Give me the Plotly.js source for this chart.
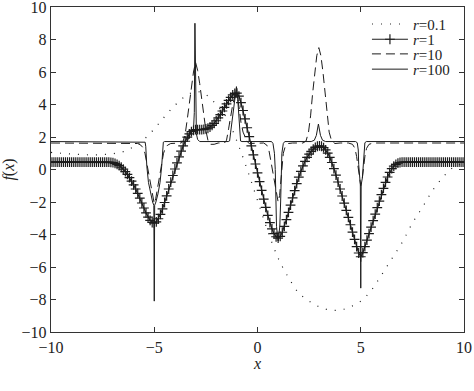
<!DOCTYPE html>
<html>
<head>
<meta charset="utf-8">
<script src="https://cdn.plot.ly/plotly-3.0.1.min.js"></script>
<style>html,body{margin:0;padding:0;background:#fff;}#chart{width:474px;height:391px;}</style>
</head>
<body>
<div id="chart"></div>
<script>
// ---- data ----
const seriesNames = ['<i>r</i>=0.1', '<i>r</i>=1', '<i>r</i>=10', '<i>r</i>=100'];

// r = 0.1 (dotted)
const r01X = [-10,-9.5,-9,-8.5,-8,-7.5,-7,-6.5,-6,-5.5,-5,-4.5,-4,-3.5,-3,-2.5,-2,-1.5,-1,-0.5,0,0.5,1,1.5,2,2.5,3,3.5,4,4.5,5,5.5,6,6.5,7,7.5,8,8.5,9,9.5,10];
const r01Y = [1.05,1.0,0.95,0.92,0.9,0.92,0.97,1.1,1.4,1.85,2.5,3.25,3.95,4.5,4.8,4.6,4.0,3.2,1.75,0.0,-1.9,-3.8,-5.45,-6.65,-7.6,-8.1,-8.45,-8.65,-8.65,-8.45,-8.1,-7.45,-6.5,-5.5,-4.5,-3.3,-2.3,-1.25,-0.45,0.15,0.38];

// r = 1 (solid with + markers), sampled every 0.1 from -10 to 10
const r1Y = [
  0.45,0.45,0.45,0.45,0.45,0.45,0.45,0.45,0.45,0.45,
  0.45,0.45,0.45,0.45,0.45,0.45,0.45,0.45,0.45,0.45,
  0.45,0.45,0.45,0.45,0.45,0.45,0.45,0.45,0.45,
  0.44,0.42,
  0.38,0.32,0.24,0.14,0.02,-0.13,-0.3,-0.5,-0.72,-0.95,
  -1.2,-1.47,-1.76,-2.06,-2.37,-2.67,-2.93,-3.13,-3.26,-3.3,
  -3.22,-3.03,-2.76,-2.42,-2.03,-1.62,-1.2,-0.78,-0.37,0.03,
  0.41,0.78,1.13,1.45,1.74,1.99,2.19,2.33,2.41,2.45,
  2.46,2.46,2.46,2.47,2.5,2.54,2.61,2.71,2.84,3.0,
  3.18,3.38,3.6,3.82,4.04,4.25,4.44,4.59,4.68,4.7,
  4.52,4.12,3.63,3.11,2.57,2.02,1.46,0.9,0.34,-0.21,
  -0.75,-1.29,-1.82,-2.33,-2.82,-3.27,-3.65,-3.95,-4.14,-4.22,
  -4.12,-3.86,-3.5,-3.08,-2.64,-2.19,-1.74,-1.3,-0.87,-0.47,
  -0.11,0.22,0.5,0.75,0.95,1.12,1.26,1.36,1.43,1.45,
  1.43,1.35,1.21,1.01,0.75,0.43,0.06,-0.35,-0.77,-1.2,
  -1.63,-2.07,-2.51,-2.95,-3.4,-3.85,-4.3,-4.74,-5.14,-5.37,
  -5.12,-4.75,-4.35,-3.95,-3.55,-3.15,-2.75,-2.35,-1.95,-1.55,
  -1.16,-0.79,-0.46,-0.18,0.05,0.21,0.32,0.39,0.43,
  0.45,0.45,0.45,0.45,0.45,0.45,0.45,0.45,0.45,0.45,
  0.45,0.45,0.45,0.45,0.45,0.45,0.45,0.45,0.45,0.45,
  0.45,0.45,0.45,0.45,0.45,0.45,0.45,0.45,0.45,0.45,0.45
];
const r1X = r1Y.map((_, i) => Math.round((-10 + i * 0.1) * 10) / 10);

// r = 10 (dashed)
const r10X = [-10,-6,-5.8,-5.65,-5.55,-5.45,-5.35,-5.25,-5.15,-5.07,-5.0,-4.93,-4.85,-4.75,-4.65,-4.55,-4.45,-4.35,-4.2,-4.0,
  -3.7,-3.6,-3.5,-3.4,-3.3,-3.2,-3.1,-3.0,-2.9,-2.8,-2.7,-2.6,-2.5,-2.4,-2.3,-2.1,-1.9,
  -1.6,-1.5,-1.4,-1.3,-1.2,-1.1,-1.0,-0.9,-0.8,-0.7,-0.6,-0.5,-0.4,-0.2,0.0,
  0.3,0.45,0.55,0.65,0.75,0.85,0.93,1.0,1.07,1.13,1.18,1.25,1.35,1.5,1.7,
  2.2,2.35,2.47,2.57,2.67,2.77,2.87,2.97,3.07,3.17,3.27,3.37,3.47,3.59,3.75,4.0,
  4.4,4.6,4.72,4.8,4.87,4.93,5.0,5.07,5.13,5.2,5.28,5.4,5.6,10];
const r10Y = [1.63,1.63,1.6,1.5,1.35,1.0,0.3,-0.5,-1.2,-1.8,-2.1,-1.8,-1.2,-0.5,0.3,1.0,1.35,1.5,1.6,1.63,
  1.63,1.75,2.2,3.1,4.2,5.1,6.0,6.6,6.1,5.3,4.3,3.3,2.4,1.8,1.55,1.55,1.63,
  1.63,1.8,2.5,3.3,4.0,4.45,4.6,3.9,2.9,2.3,1.95,1.72,1.6,1.6,1.63,
  1.63,1.5,1.2,0.5,-0.2,-0.9,-1.6,-2.0,-1.6,-0.9,0.0,1.0,1.45,1.6,1.63,
  1.63,1.75,2.3,3.3,4.7,6.0,7.0,7.5,7.0,6.0,4.7,3.3,2.3,1.75,1.6,1.63,
  1.63,1.55,1.3,0.8,0.1,-0.6,-1.0,-0.6,0.1,0.8,1.3,1.55,1.63,1.63];

// r = 100 (thin solid)
const r100X = [-10,-5.5,-5.44,-5.41,-5.36,-5.28,-5.18,-5.08,-5.02,-5.0,-4.98,-4.92,-4.82,-4.72,-4.64,-4.59,-4.56,-4.5,
  -3.45,-3.38,-3.3,-3.2,-3.1,-3.06,-3.03,-3.0,-2.96,-2.9,-2.85,-2.8,
  -1.42,-1.35,-1.3,-1.2,-1.1,-1.02,-0.95,-0.9,-0.86,-0.82,-0.75,
  0.68,0.75,0.82,0.86,0.88,0.92,0.98,1.0,1.02,1.08,1.12,1.14,1.18,1.25,1.32,
  2.6,2.75,2.85,2.95,3.05,3.15,3.3,
  4.75,4.83,4.88,4.9,4.93,4.98,5.0,5.02,5.08,5.12,5.15,5.2,5.27,10];
const r100Y = [1.72,1.72,1.68,1.4,0.2,-0.8,-1.5,-2.0,-2.2,-8.1,-2.2,-2.0,-1.5,-0.8,0.2,1.4,1.68,1.72,
  1.72,1.8,2.1,2.35,2.45,3.5,9.0,3.5,2.2,1.85,1.74,1.72,
  1.72,1.76,2.3,3.3,4.2,5.1,4.2,3.0,2.0,1.75,1.72,
  1.72,1.6,1.0,0.0,-2.0,-3.5,-4.2,-4.4,-4.2,-3.5,-2.0,0.0,1.0,1.6,1.72,
  1.72,1.8,2.1,2.8,2.1,1.8,1.72,
  1.72,1.65,1.2,0.3,-0.5,-0.95,-7.3,-0.95,-0.5,0.3,1.2,1.65,1.72,1.72];

const xTicks = [-10, -5, 0, 5, 10];
const yTicks = [-10, -8, -6, -4, -2, 0, 2, 4, 6, 8, 10];

// ---- drawing ----
const ink = '#1c1c1c';
const serif = 'Times New Roman, Liberation Serif, serif';
const traces = [
  {x: r01X, y: r01Y, name: seriesNames[0], legend: 'legend', mode: 'lines', line: {shape: 'spline', smoothing: 1, color: ink, width: 1.2, dash: '1px,8px'}},
  {x: r1X, y: r1Y, name: seriesNames[1], legend: 'legend2', mode: 'lines+markers', line: {color: ink, width: 1.2},
   marker: {symbol: 'cross-thin-open', size: 7, color: ink, line: {color: ink, width: 1.2}}},
  {x: r10X, y: r10Y, name: seriesNames[2], legend: 'legend3', mode: 'lines', line: {color: ink, width: 1, dash: '9px,5px'}},
  {x: r100X, y: r100Y, name: seriesNames[3], legend: 'legend4', mode: 'lines', line: {color: ink, width: 1}}
];

// one legend box per row so that the rows can sit as tightly as in the reference
const legendRowY = [0.947, 0.9, 0.855, 0.808];
function legendBox(y) {
  return {x: 0.765, y: y, xanchor: 'left', yanchor: 'middle', bgcolor: 'rgba(0,0,0,0)',
          font: {family: serif, size: 15, color: '#222'}, itemwidth: 36};
}

const tickFont = {family: serif, size: 16, color: '#222'};
const layout = {
  width: 474, height: 391,
  margin: {l: 51, r: 10, t: 7, b: 59},
  paper_bgcolor: '#fff', plot_bgcolor: '#fff',
  showlegend: true,
  legend: legendBox(legendRowY[0]),
  legend2: legendBox(legendRowY[1]),
  legend3: legendBox(legendRowY[2]),
  legend4: legendBox(legendRowY[3]),
  xaxis: {range: [-10, 10], tickvals: xTicks, ticktext: xTicks.map(v => v < 0 ? '\u2212' + Math.abs(v) : String(v)),
          ticks: 'inside', ticklen: 5, tickcolor: '#333', showline: true, linecolor: '#333', linewidth: 1.3, mirror: 'ticks',
          showgrid: false, zeroline: false, tickfont: tickFont, ticklabeloverflow: 'allow',
          title: {text: '<i>x</i>', font: {family: serif, size: 16, color: '#222'}, standoff: 2}},
  yaxis: {range: [-10, 10], tickvals: yTicks, ticktext: yTicks.map(v => v < 0 ? '\u2212' + Math.abs(v) : String(v)),
          ticks: 'inside', ticklen: 5, tickcolor: '#333', showline: true, linecolor: '#333', linewidth: 1.3, mirror: 'ticks',
          showgrid: false, zeroline: false, tickfont: tickFont, ticklabeloverflow: 'allow',
          title: {text: '<i>f</i>(<i>x</i>)', font: {family: serif, size: 16, color: '#222'}, standoff: 6}}
};

Plotly.newPlot('chart', traces, layout, {displayModeBar: false, staticPlot: true});
</script>
</body>
</html>
